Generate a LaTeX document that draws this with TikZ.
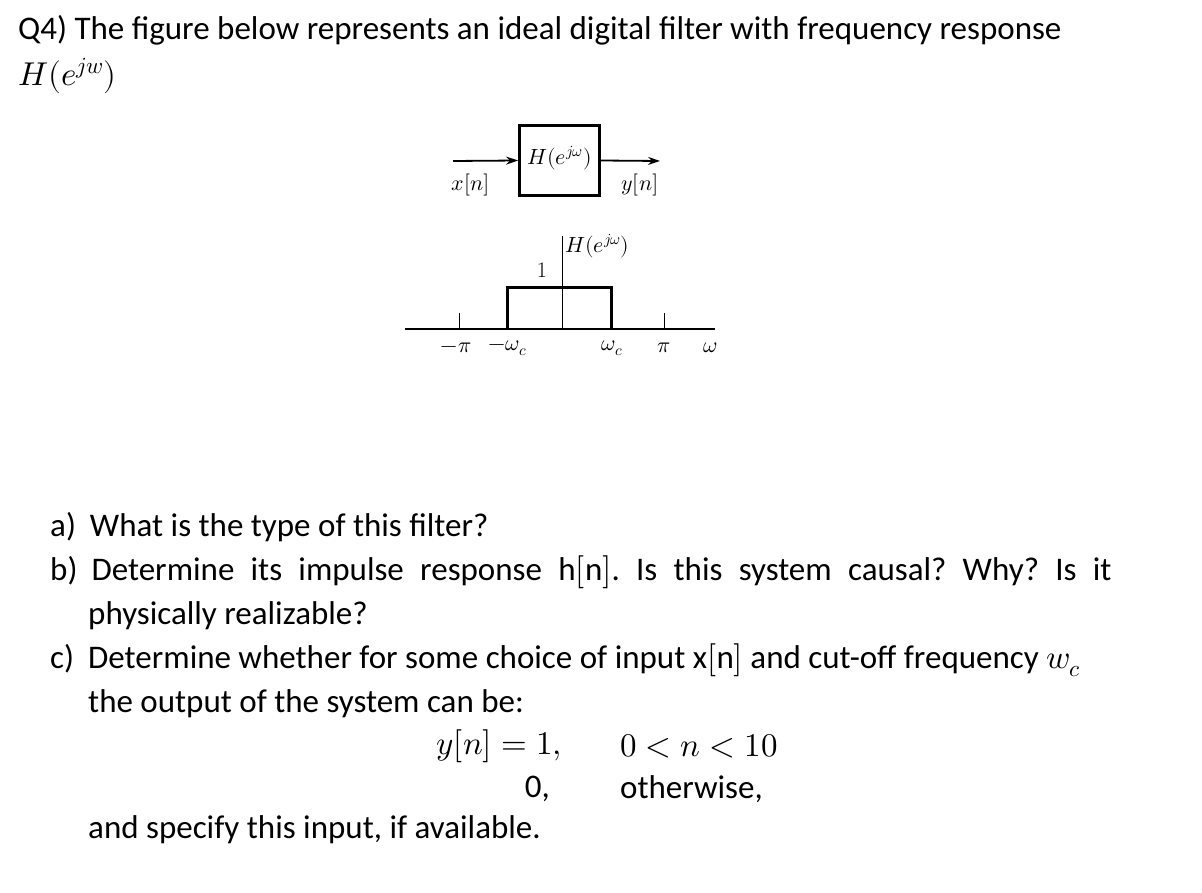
\documentclass[tikz,border=0pt]{standalone}
\usepackage{fontspec}
\usepackage{unicode-math}
\setmainfont{Carlito}
\setmathfont{Latin Modern Math}
\newfontfamily\lmr{Latin Modern Roman}
\usetikzlibrary{arrows.meta}
\begin{document}
\frenchspacing
\begin{tikzpicture}[x=1pt,y=-1pt,
  txt/.style={anchor=west,inner sep=0pt,font=\fontsize{33}{38}\selectfont},
  fig/.style={inner sep=0pt,font=\fontsize{22}{26}\selectfont\lmr},
  arr/.style={line width=1.8pt,-{Stealth[length=12pt,width=8pt]}}]
\useasboundingbox (0,0) rectangle (1202,893);
% question text
\node[txt] (t1) at (18,30) {Q4) The figure below represents an ideal digital filter with frequency response};
\node[txt] (t2) at (18,76) {$H(e^{jw})$};
\node[txt] (a) at (50,527) {a)\hspace{14pt}What is the type of this filter?};
\node[txt] (b1) at (50,572) {b)\hspace{14pt}\makebox[1020pt][s]{Determine its impulse response $\mathrm{h[n]}$. Is this system causal? Why? Is it}};
\node[txt] (b2) at (88,616) {physically realizable?};
\node[txt] (c1) at (50,660) {c)\hspace{14pt}Determine whether for some choice of input $\mathrm{x[n]}$ and cut-off frequency $w_c$};
\node[txt] (c2) at (88,704) {the output of the system can be:};
\node[txt,anchor=east] (f1) at (562,746) {$y[n] = 1,$};
\node[txt] (f2) at (620,746) {$0 < n < 10$};
\node[txt,anchor=east] (f3) at (550,789) {0,};
\node[txt] (f4) at (620,789) {otherwise,};
\node[txt] (e) at (88,830) {and specify this input, if available.};
% block diagram
\node[draw,line width=2.8pt,minimum width=80pt,minimum height=70pt,fig] (box) at (559.5,160.5) {};
\node[fig,anchor=north] at (559.5,146) {$H(e^{j\omega})$};
\coordinate (in) at (453,161);
\coordinate (out) at (660,161);
\draw[arr] (in) -- (box.west);
\draw[arr] (box.east) -- (out);
\node[fig] (xn) at (471,185) {$x[n]$};
\node[fig] (yn) at (640,185) {$y[n]$};
% frequency response
\coordinate (axL) at (405,329);
\coordinate (axR) at (715,329);
\coordinate (vb) at (562,329);
\coordinate (vt) at (562,236);
\draw[line width=1.3pt] (axL) -- (axR);
\draw[line width=1pt] (vb) -- (vt);
\draw[line width=3pt] (507,329) -- (507,288) -- (611,288) -- (611,329);
\draw[line width=1pt] (459,329) -- (459,313);
\draw[line width=1pt] (664,329) -- (664,313);
\node[fig,anchor=west] (hl) at (565,246) {$H(e^{j\omega})$};
\node[fig] (one) at (542,270) {1};
\node[fig] at (456,348) {$-\pi$};
\node[fig] at (508,348) {$-\omega_c$};
\node[fig] at (612,348) {$\omega_c$};
\node[fig] at (664,348) {$\pi$};
\node[fig] at (710,348) {$\omega$};
\end{tikzpicture}
\end{document}
